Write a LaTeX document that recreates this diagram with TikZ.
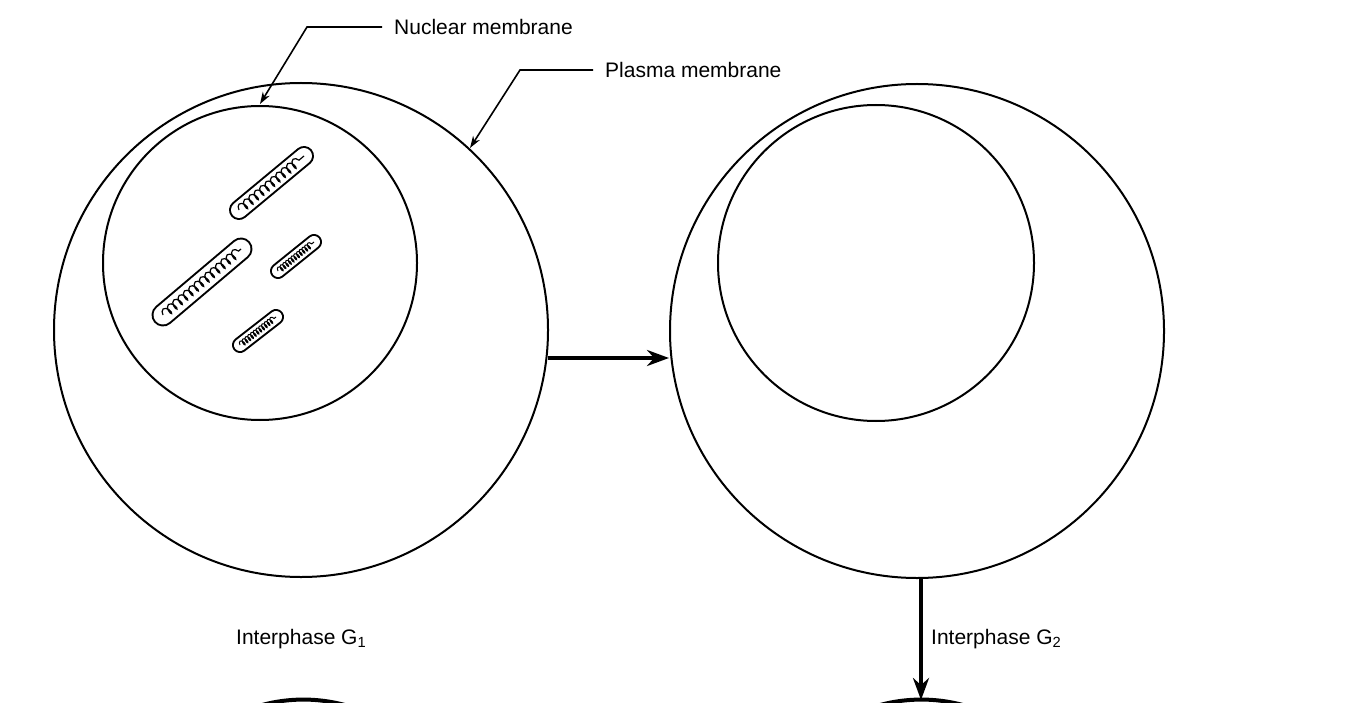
\documentclass[tikz,border=0pt]{standalone}
\usepackage{fontspec}
\setmainfont{Liberation Sans}
\usetikzlibrary{arrows.meta,decorations.pathmorphing}
\begin{document}
\begin{tikzpicture}[x=1pt,y=-1pt,
  memb/.style={draw,line width=2pt},
  flow/.style={line width=4pt,-{Stealth[length=22pt,width=16pt]}},
  lead/.style={line width=1.6pt,-{Stealth[length=12pt,width=8pt]}},
  capsule/.style={double,draw=black,line width=2pt,line cap=round},
  coilA/.style={decorate,decoration={coil,segment length=7pt,amplitude=4.5pt},line width=1.2pt},
  coilB/.style={decorate,decoration={coil,segment length=3.5pt,amplitude=3pt},line width=1pt},
  lbl/.style={font=\fontsize{21}{25}\selectfont,inner sep=0pt,anchor=west}]
\useasboundingbox (0,0) rectangle (1348,703);
\node[memb,circle,minimum size=494pt] (cellA) at (301,330) {};
\node[memb,circle,minimum size=314pt] (nucA) at (260,263) {};
\node[memb,circle,minimum size=494pt] (cellB) at (917,331) {};
\node[memb,circle,minimum size=316pt] (nucB) at (876,263) {};
% chromosomes
\coordinate (c1a) at (239,210); \coordinate (c1b) at (304,156);
\coordinate (c2a) at (163,315); \coordinate (c2b) at (241,249);
\coordinate (c3a) at (278,271); \coordinate (c3b) at (314,242);
\coordinate (c4a) at (240,345); \coordinate (c4b) at (276,317);
\draw[capsule,double distance=16pt] (c1a) -- (c1b);
\draw[capsule,double distance=19pt] (c2a) -- (c2b);
\draw[capsule,double distance=12pt] (c3a) -- (c3b);
\draw[capsule,double distance=12pt] (c4a) -- (c4b);
\draw[coilA] (c1a) -- (c1b);
\draw[coilA] (c2a) -- (c2b);
\draw[coilB] (c3a) -- (c3b);
\draw[coilB] (c4a) -- (c4b);
% labels
\node[lbl] (nm) at (394,27) {Nuclear membrane};
\node[lbl] (pm) at (605,70) {Plasma membrane};
\coordinate (nmt) at (260,104);
\coordinate (pmt) at (470,148);
\draw[lead] ([xshift=-12pt]nm.west) -- (307,27) -- (nmt);
\draw[lead] ([xshift=-12pt]pm.west) -- (520,70) -- (pmt);
\node[lbl] (g1) at (236,639) {Interphase G\textsubscript{1}};
\node[lbl] (g2) at (931,639) {Interphase G\textsubscript{2}};
% arrows
\draw[flow] (548,358) -- (cellB.west |- 0,358);
\coordinate (bottomB) at (921,700);
\draw[flow] (cellB.south -| 921,0) -- (bottomB);
% partial cells at bottom
\draw[line width=4pt] (262,705) arc[start angle=-105,end angle=-75,radius=160];
\draw[line width=4pt] (880,705) arc[start angle=-105,end angle=-75,radius=160];
\end{tikzpicture}
\end{document}
